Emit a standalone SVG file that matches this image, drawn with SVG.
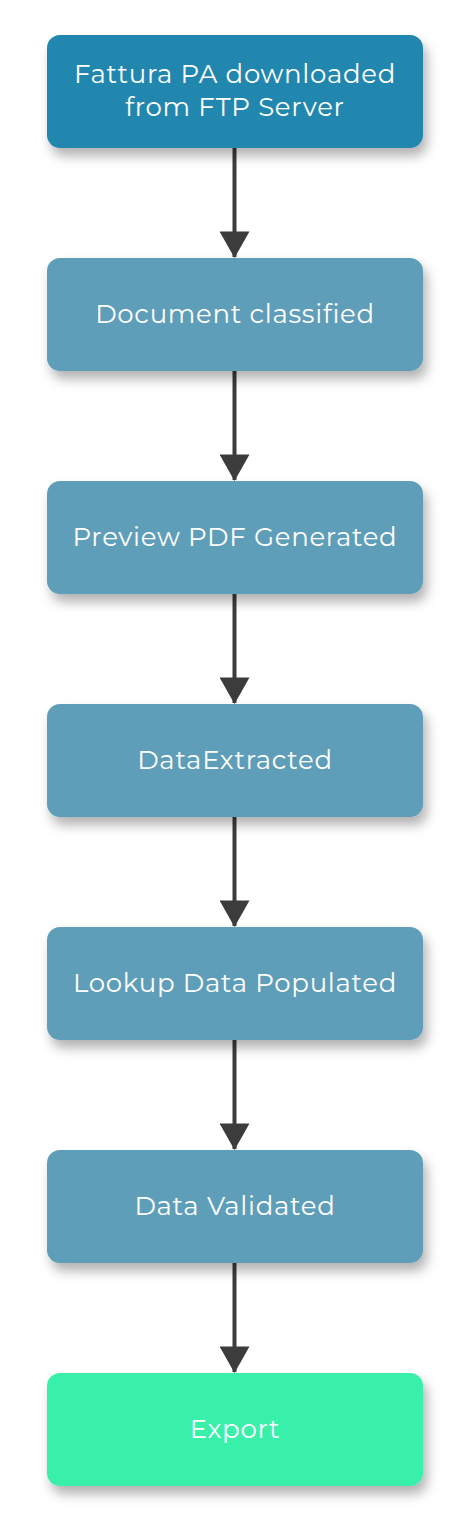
<svg xmlns="http://www.w3.org/2000/svg" width="475" height="1536" viewBox="0 0 475 1536">
<style>
.node{stroke:none;filter:url(#sh)}
.lbl{font-family:Montserrat,"Noto Sans","Liberation Sans",sans-serif;font-size:26px;letter-spacing:0.7px;fill:#ffffff;text-anchor:middle}
.edge{stroke:#3c3c3c;stroke-width:4;fill:none;marker-end:url(#ah)}
</style>
<defs>
<filter id="sh" x="-20%" y="-30%" width="140%" height="170%">
<feDropShadow dx="4" dy="8" stdDeviation="6" flood-color="#000" flood-opacity="0.3"/>
</filter>
<marker id="ah" markerUnits="userSpaceOnUse" markerWidth="34" markerHeight="30" refX="29" refY="17" orient="auto" viewBox="0 0 30 34">
<path d="M0,0 L30,17 L0,34 Z" fill="#3c3c3c"/>
</marker>
</defs>
<g id="connectors">
<line class="edge" x1="234.5" y1="148" x2="234.5" y2="257"/>
<line class="edge" x1="234.5" y1="371" x2="234.5" y2="480"/>
<line class="edge" x1="234.5" y1="594" x2="234.5" y2="703"/>
<line class="edge" x1="234.5" y1="817" x2="234.5" y2="926"/>
<line class="edge" x1="234.5" y1="1040" x2="234.5" y2="1149"/>
<line class="edge" x1="234.5" y1="1263" x2="234.5" y2="1372"/>
</g>
<g id="n1">
<rect class="node" x="47" y="35" width="376" height="113" rx="13" fill="#2287ae"/>
<text class="lbl" x="235" y="83">Fattura PA downloaded</text>
<text class="lbl" x="235" y="115.5">from FTP Server</text>
</g>
<g id="n2">
<rect class="node" x="47" y="258" width="376" height="113" rx="13" fill="#5f9eb8"/>
<text class="lbl" x="235" y="323">Document classified</text>
</g>
<g id="n3">
<rect class="node" x="47" y="481" width="376" height="113" rx="13" fill="#5f9eb8"/>
<text class="lbl" x="235" y="546">Preview PDF Generated</text>
</g>
<g id="n4">
<rect class="node" x="47" y="704" width="376" height="113" rx="13" fill="#5f9eb8"/>
<text class="lbl" x="235" y="769">DataExtracted</text>
</g>
<g id="n5">
<rect class="node" x="47" y="927" width="376" height="113" rx="13" fill="#5f9eb8"/>
<text class="lbl" x="235" y="992">Lookup Data Populated</text>
</g>
<g id="n6">
<rect class="node" x="47" y="1150" width="376" height="113" rx="13" fill="#5f9eb8"/>
<text class="lbl" x="235" y="1215">Data Validated</text>
</g>
<g id="n7">
<rect class="node" x="47" y="1373" width="376" height="113" rx="13" fill="#38f0aa"/>
<text class="lbl" x="235" y="1438">Export</text>
</g>
</svg>
